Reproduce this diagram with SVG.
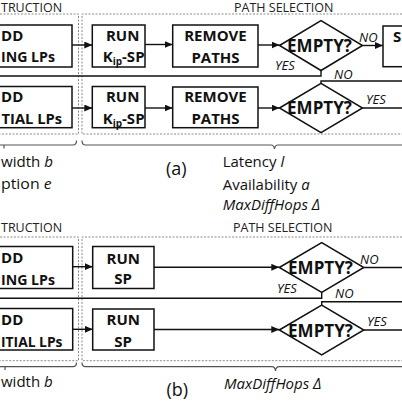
<svg xmlns="http://www.w3.org/2000/svg" width="402" height="402" viewBox="0 0 402 402">
<style>
text{font-family:"Open Sans","Liberation Sans",sans-serif;fill:#111}
.b{font-weight:bold;font-size:15px}
.m{text-anchor:middle}
.e{text-anchor:end}
.d{font-weight:bold;font-size:17px;text-anchor:middle}
.l{font-size:12.5px;fill:#222}
.i{font-style:italic;font-size:13px}
.p{font-size:15px}
.it{font-style:italic}
.sub{font-size:10px}
.box{fill:#fff;stroke:#111;stroke-width:1.5}
.frame{fill:none;stroke:#8a8a8a;stroke-width:1;stroke-dasharray:2 1.5}
.brace{fill:none;stroke:#555;stroke-width:1.2}
.c{fill:none;stroke:#111;stroke-width:1.4}
.a{marker-end:url(#ah)}
</style>
<defs>
<marker id="ah" markerUnits="userSpaceOnUse" markerWidth="9" markerHeight="8" refX="8" refY="3.5" orient="auto">
<path d="M0,0 L8,3.5 L0,7 z" fill="#111"/>
</marker>
</defs>
<rect width="402" height="402" fill="#fff"/>

<g id="frames">
<path class="frame" d="M0,14 H78.5 V134 H0"/>
<path class="frame" d="M402,14 H82 V134 H402"/>
<path class="frame" d="M0,237 H78.5 V360.7 H0"/>
<path class="frame" d="M402,237 H82 V360.7 H402"/>
<path class="brace" d="M0,145 H73 Q76.5,145 76.5,140.5"/>
<path class="brace" d="M4,145 V148.5"/>
<path class="brace" d="M82,140.5 Q82,145 85.5,145 H271 Q274,145 274.5,149 Q275,145 278,145 H402"/>
<path class="brace" d="M0,366.7 H73 Q76.5,366.7 76.5,362.5"/>
<path class="brace" d="M5,366.7 V370"/>
<path class="brace" d="M82,362.5 Q82,366.7 85.5,366.7 H272 Q275,366.7 275.5,371 Q276,366.7 279,366.7 H402"/>
</g>

<g id="section-labels">
<text class="l" x="1" y="11.5">TRUCTION</text>
<text class="l" x="234" y="11.5">PATH SELECTION</text>
<text class="l" x="1" y="231.5">TRUCTION</text>
<text class="l" x="233" y="232">PATH SELECTION</text>
</g>

<g id="connectors">
<path class="c a" d="M72,45 H92.3"/>
<path class="c a" d="M145,44.5 H172.7"/>
<path class="c a" d="M258,45 H279.5"/>
<path class="c a" d="M362.5,45.5 H383"/>
<path class="c" d="M321,70.5 V76 H0"/>
<path class="c" d="M402,81 H321 V83.3"/>
<path class="c a" d="M72,108 H92.3"/>
<path class="c a" d="M145,108 H172.7"/>
<path class="c a" d="M258,108 H279.5"/>
<path class="c" d="M362.5,108 H402"/>

<path class="c a" d="M72.7,266.7 H92.7"/>
<path class="c a" d="M154,267.3 H279.3"/>
<path class="c" d="M363.8,267.5 H402"/>
<path class="c" d="M321.7,292.5 V298.3 H0"/>
<path class="c" d="M402,301.7 H321.7 V305"/>
<path class="c a" d="M72.7,329.3 H92.7"/>
<path class="c a" d="M154,329.5 H279.3"/>
<path class="c" d="M363.8,330 H402"/>

<text class="i" x="359" y="42">NO</text>
<text class="i" x="275" y="70">YES</text>
<text class="i" x="334" y="78.5">NO</text>
<text class="i" x="366" y="104">YES</text>
<text class="i" x="360" y="264">NO</text>
<text class="i" x="277" y="292.5">YES</text>
<text class="i" x="335" y="297.8">NO</text>
<text class="i" x="367" y="326">YES</text>
</g>

<g id="addA1">
<rect class="box" x="-10" y="25" width="82" height="42"/>
<text class="b e" x="23.3" y="40.5">DD</text>
<text class="b" x="1" y="62.3" textLength="54" lengthAdjust="spacingAndGlyphs">ING LPs</text>
</g>
<g id="runA1">
<rect class="box" x="92.3" y="25" width="52.7" height="42"/>
<text class="b m" x="122.7" y="40.7">RUN</text>
<text class="b" x="102.7" y="62.3">K<tspan class="sub" dy="3">ip</tspan><tspan dy="-3">-SP</tspan></text>
</g>
<g id="removeA1">
<rect class="box" x="172.7" y="25" width="85.3" height="42"/>
<text class="b m" x="215.5" y="40.5">REMOVE</text>
<text class="b m" x="215.5" y="62.5">PATHS</text>
</g>
<g id="emptyA1">
<polygon class="box" points="279.5,45.5 321,20.7 362.5,45.5 321,70.5"/>
<text class="d" x="319.5" y="51.8">EMPTY?</text>
</g>
<g id="sA1">
<rect class="box" x="383" y="26" width="30" height="40.7"/>
<text class="b" x="393" y="42">S</text>
</g>

<g id="addA2">
<rect class="box" x="-10" y="86.5" width="82" height="41.2"/>
<text class="b e" x="23.3" y="101.7">DD</text>
<text class="b" x="1.5" y="123.5" textLength="60.5" lengthAdjust="spacingAndGlyphs">TIAL LPs</text>
</g>
<g id="runA2">
<rect class="box" x="92.3" y="86.5" width="52.7" height="41.2"/>
<text class="b m" x="122.7" y="102">RUN</text>
<text class="b" x="102.7" y="123.8">K<tspan class="sub" dy="3">ip</tspan><tspan dy="-3">-SP</tspan></text>
</g>
<g id="removeA2">
<rect class="box" x="172.7" y="87" width="85.3" height="40.7"/>
<text class="b m" x="215.5" y="102.3">REMOVE</text>
<text class="b m" x="215.5" y="124">PATHS</text>
</g>
<g id="emptyA2">
<polygon class="box" points="279.5,108 321,83.3 362.5,108 321,132.7"/>
<text class="d" x="319.5" y="114.3">EMPTY?</text>
</g>

<g id="params-a">
<text class="p" x="1" y="166.7" textLength="52" lengthAdjust="spacingAndGlyphs">width <tspan class="it">b</tspan></text>
<text class="p" x="1" y="189.3" textLength="50.7" lengthAdjust="spacingAndGlyphs">ption <tspan class="it">e</tspan></text>
<text x="166" y="175" font-size="18">(a)</text>
<text class="p" x="222.7" y="167">Latency <tspan class="it">l</tspan></text>
<text class="p" x="222.7" y="189.5">Availability <tspan class="it">a</tspan></text>
<text class="p it" x="222.7" y="209.5">MaxDiffHops Δ</text>
</g>

<g id="addB1">
<rect class="box" x="-10" y="246.5" width="82.7" height="42"/>
<text class="b e" x="23.3" y="263">DD</text>
<text class="b" x="1" y="285" textLength="54" lengthAdjust="spacingAndGlyphs">ING LPs</text>
</g>
<g id="runB1">
<rect class="box" x="92.7" y="246.5" width="61.3" height="42"/>
<text class="b m" x="123.3" y="264.3">RUN</text>
<text class="b m" x="123" y="284.3">SP</text>
</g>
<g id="emptyB1">
<polygon class="box" points="279.3,267.5 321.7,242.7 363.8,267.5 321.7,292.5"/>
<text class="d" x="320.5" y="274.3">EMPTY?</text>
</g>

<g id="addB2">
<rect class="box" x="-10" y="308.5" width="82.7" height="41.5"/>
<text class="b e" x="23.3" y="325">DD</text>
<text class="b" x="1" y="346.5" textLength="61.5" lengthAdjust="spacingAndGlyphs">ITIAL LPs</text>
</g>
<g id="runB2">
<rect class="box" x="92.7" y="309" width="61.3" height="41"/>
<text class="b m" x="123.3" y="325">RUN</text>
<text class="b m" x="123" y="346.5">SP</text>
</g>
<g id="emptyB2">
<polygon class="box" points="279.3,330 321.7,305 363.8,330 321.7,355"/>
<text class="d" x="320.5" y="336.6">EMPTY?</text>
</g>

<g id="params-b">
<text class="p" x="1" y="386.5" textLength="51.7" lengthAdjust="spacingAndGlyphs">width <tspan class="it">b</tspan></text>
<text x="166.5" y="395.5" font-size="18">(b)</text>
<text class="p it" x="224" y="388.5">MaxDiffHops Δ</text>
</g>
</svg>
